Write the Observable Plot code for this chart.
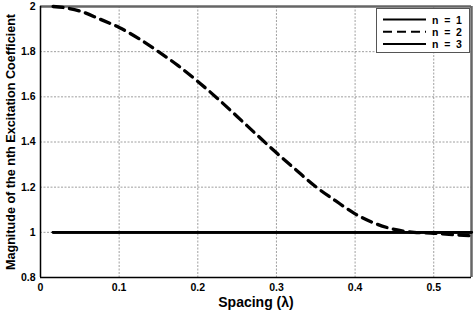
<!DOCTYPE html>
<html><head><meta charset="utf-8">
<script src="https://cdn.jsdelivr.net/npm/d3@7"></script>
<script src="https://cdn.jsdelivr.net/npm/@observablehq/plot@0.6"></script>
<style>
body{margin:0;background:#fff;}
#wrap{position:relative;width:474px;height:311px;font-family:"Liberation Sans",Arial,sans-serif;}
#legend{position:absolute;left:376px;top:8px;width:94px;height:45px;border:1px solid #555;background:#fff;box-sizing:border-box;}
</style>
</head><body>
<div id="wrap"><div id="chart"></div><div id="legend"></div></div>
<script>
const seriesNames = ["n = 1", "n = 2", "n = 3"];
const spacingN2 = [0.016, 0.03, 0.05, 0.075, 0.1, 0.125, 0.15, 0.175, 0.2, 0.225, 0.25, 0.275, 0.3, 0.325, 0.35, 0.375, 0.4, 0.425, 0.45, 0.475, 0.5, 0.525, 0.545];
const magN2 = [2.0, 1.995, 1.98, 1.945, 1.907, 1.858, 1.80, 1.738, 1.668, 1.593, 1.513, 1.432, 1.352, 1.276, 1.202, 1.14, 1.082, 1.04, 1.013, 1.0, 0.996, 0.99, 0.985];
const spacingFlat = [0.016, 0.548];
const magN1 = [1, 1];
const magN3 = [1, 1];
const xTicks = [0, 0.1, 0.2, 0.3, 0.4, 0.5];
const yTicks = [0.8, 1, 1.2, 1.4, 1.6, 1.8, 2];
const xDomain = [0, 0.548];
const yDomain = [0.8, 2];

const n1 = spacingFlat.map((x, i) => ({x, y: magN1[i]}));
const n3 = spacingFlat.map((x, i) => ({x, y: magN3[i]}));
const n2 = spacingN2.map((x, i) => ({x, y: magN2[i]}));

const chart = Plot.plot({
  width: 474, height: 311,
  marginLeft: 40, marginRight: 3, marginTop: 6, marginBottom: 34,
  style: {fontFamily: "'Liberation Sans', Arial, sans-serif", fontWeight: "bold", fontSize: "10.5px", background: "#fff", color: "#000"},
  x: {domain: xDomain},
  y: {domain: yDomain},
  marks: [
    Plot.gridX(xTicks.slice(1), {stroke: "#777", strokeOpacity: 0.7, strokeDasharray: "2,1.5"}),
    Plot.gridY(yTicks.slice(1, -1), {stroke: "#777", strokeOpacity: 0.7, strokeDasharray: "2,1.5"}),
    Plot.axisX({ticks: xTicks, tickFormat: d => String(d), tickSize: 0, tickPadding: 6, label: "Spacing (λ)", labelAnchor: "center", labelOffset: 29, labelArrow: "none", fontSize: 10.5}),
    Plot.axisY({ticks: yTicks, tickFormat: d => String(d), tickSize: 0, tickPadding: 5, label: "Magnitude of the nth Excitation Coefficient", labelAnchor: "center", labelOffset: 34, labelArrow: "none", fontSize: 10.5}),
    Plot.ruleY([2], {stroke: "#666", strokeWidth: 2.5}),
    Plot.ruleX([xDomain[1]], {stroke: "#666", strokeWidth: 2.5}),
    Plot.ruleX([0], {stroke: "#000", strokeWidth: 1.5}),
    Plot.ruleY([0.8], {stroke: "#000", strokeWidth: 1.5}),
    Plot.line(n1, {x: "x", y: "y", stroke: "#000", strokeWidth: 2.8}),
    Plot.line(n3, {x: "x", y: "y", stroke: "#000", strokeWidth: 2.8}),
    Plot.line(n2, {x: "x", y: "y", stroke: "#000", strokeWidth: 3.3, strokeDasharray: "10,6.5", curve: "monotone-x"})
  ]
});
document.getElementById("chart").appendChild(chart);
chart.querySelectorAll("[aria-label='x-axis label'] text").forEach(t => { t.style.fontSize = "14px"; });
chart.querySelectorAll("[aria-label='y-axis label'] text").forEach(t => { t.style.fontSize = "12.6px"; });

// legend
const dashes = ["", "9,5", ""];
const ns = "http://www.w3.org/2000/svg";
const lg = document.createElementNS(ns, "svg");
lg.setAttribute("width", 92); lg.setAttribute("height", 43);
seriesNames.forEach((name, i) => {
  const yy = 10.5 + i * 12.2;
  const l = document.createElementNS(ns, "line");
  l.setAttribute("x1", 6); l.setAttribute("x2", 49); l.setAttribute("y1", yy); l.setAttribute("y2", yy);
  l.setAttribute("stroke", "#000"); l.setAttribute("stroke-width", 2);
  if (dashes[i]) l.setAttribute("stroke-dasharray", dashes[i]);
  lg.appendChild(l);
  const t = document.createElementNS(ns, "text");
  t.setAttribute("x", 55); t.setAttribute("y", yy + 4);
  t.setAttribute("font-size", "10.5px"); t.setAttribute("font-weight", "bold");
  t.setAttribute("letter-spacing", "1.4px");
  t.setAttribute("font-family", "'Liberation Sans', Arial, sans-serif");
  t.textContent = name;
  lg.appendChild(t);
});
document.getElementById("legend").appendChild(lg);
</script>
</body></html>
